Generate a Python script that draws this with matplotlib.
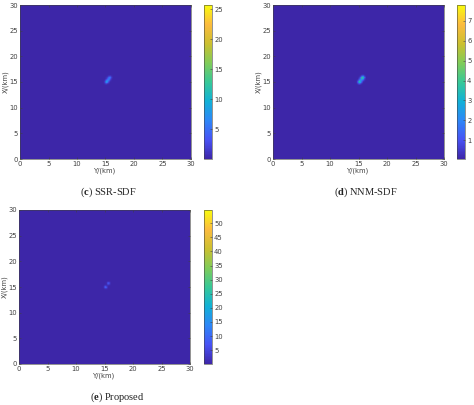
import numpy as np
import matplotlib
matplotlib.use("Agg")
import matplotlib.pyplot as plt
from matplotlib.colors import LinearSegmentedColormap

plt.rcParams['font.family'] = ['DejaVu Sans']
plt.rcParams['mathtext.fontset'] = 'custom'
plt.rcParams['mathtext.rm'] = 'Liberation Serif'
plt.rcParams['mathtext.bf'] = 'Liberation Serif:bold'

## MATLAB parula, approximated from a few anchor colours
parula = LinearSegmentedColormap.from_list("parula", [
    (0.2422, 0.1504, 0.6603), (0.2810, 0.3228, 0.9579),
    (0.1786, 0.5289, 0.9682), (0.0689, 0.6948, 0.8394),
    (0.2161, 0.7843, 0.5923), (0.5044, 0.7993, 0.3480),
    (0.8000, 0.7531, 0.1875), (0.9871, 0.7348, 0.2438),
    (0.9763, 0.9831, 0.0538)])

## Data: 30 x 30 km field on 0.25 km cells, zero except a patch near (15, 15)
grid_km = 30.0
cell_km = 0.25
patch_origin = (14.5, 14.25)   # (Y, X) of the patch's lower-left cell

# rows go up in X, columns go right in Y
patch_ssr = [
    [0, 0.0, 0.0, 0.0, 0.0, 0.0, 0.0, 0],
    [0, 0.5, 1.5, 0.5, 0.0, 0.0, 0.0, 0],
    [0, 1.5, 6.5, 4.5, 1.0, 0.0, 0.0, 0],
    [0, 1.5, 8.5, 6.5, 2.5, 0.5, 0.0, 0],
    [0, 0.5, 3.5, 6.5, 5.5, 1.5, 0.0, 0],
    [0, 0.0, 1.0, 3.5, 6.5, 3.0, 0.5, 0],
    [0, 0.0, 0.5, 2.0, 5.5, 4.5, 1.0, 0],
    [0, 0.0, 0.0, 0.5, 2.0, 2.0, 0.5, 0],
    [0, 0.0, 0.0, 0.0, 0.0, 0.0, 0.0, 0],
]
patch_nnm = [
    [0, 0.0, 0.0, 0.0, 0.0, 0.0, 0.0, 0],
    [0, 0.3, 0.9, 0.5, 0.0, 0.0, 0.0, 0],
    [0, 0.9, 3.0, 2.0, 0.6, 0.0, 0.0, 0],
    [0, 0.9, 3.6, 2.7, 1.1, 0.3, 0.0, 0],
    [0, 0.3, 1.7, 2.2, 2.0, 0.9, 0.2, 0],
    [0, 0.0, 0.7, 1.8, 3.6, 2.3, 0.5, 0],
    [0, 0.0, 0.3, 1.4, 4.0, 3.1, 0.9, 0],
    [0, 0.0, 0.0, 0.5, 1.8, 1.7, 0.4, 0],
    [0, 0.0, 0.0, 0.0, 0.3, 0.3, 0.0, 0],
]
patch_prop = [
    [0, 0.0, 0.0, 0.0, 0.0, 0.0, 0.0, 0],
    [0, 0.0, 1.0, 1.0, 0.0, 0.0, 0.0, 0],
    [0, 1.0, 9.0, 6.0, 0.0, 0.0, 0.0, 0],
    [0, 1.0, 7.0, 4.0, 0.5, 0.0, 0.0, 0],
    [0, 0.0, 1.0, 1.0, 2.0, 1.0, 0.0, 0],
    [0, 0.0, 0.0, 1.0, 8.0, 5.0, 0.0, 0],
    [0, 0.0, 0.0, 1.0, 6.0, 4.0, 0.0, 0],
    [0, 0.0, 0.0, 0.0, 0.5, 0.5, 0.0, 0],
    [0, 0.0, 0.0, 0.0, 0.0, 0.0, 0.0, 0],
]

# colour limits
clim_ssr = (0.05, 25.7)
clim_nnm = (0.05, 7.8)
clim_prop = (0.1, 54.7)

ticks_xy = [0, 5, 10, 15, 20, 25, 30]
cticks_ssr = [5, 10, 15, 20, 25]
cticks_nnm = [1, 2, 3, 4, 5, 6, 7]
cticks_prop = [5, 10, 15, 20, 25, 30, 35, 40, 45, 50]

captions = [("c", "SSR-SDF"), ("d", "NNM-SDF"), ("e", "Proposed")]


def make_field(patch):
    n = int(grid_km / cell_km)
    field = np.zeros((n, n))
    p = np.array(patch, dtype=float)
    c0 = int(round(patch_origin[0] / cell_km))
    r0 = int(round(patch_origin[1] / cell_km))
    field[r0:r0 + p.shape[0], c0:c0 + p.shape[1]] = p
    return field


W, H = 474.0, 405.0
fig = plt.figure(figsize=(4.74, 4.05), dpi=100)

## pixel boxes: (axes left, right, top, bottom, cbar left, cbar right, caption x, caption y)
boxes = [
    (20, 191, 5, 159, 204, 212, 108, 192),
    (273, 444, 5, 159, 457, 465, 366, 192),
    (19, 190, 210, 364, 204, 212, 117, 397),
]
panels = [
    (patch_ssr, clim_ssr, cticks_ssr),
    (patch_nnm, clim_nnm, cticks_nnm),
    (patch_prop, clim_prop, cticks_prop),
]
fs = 4.9
txtc = '#404040'

for (patch, clim, cticks), box, (letter, name) in zip(panels, boxes, captions):
    l, r, t, b, cl, cr, tx, ty = box
    ax = fig.add_axes([l / W, 1 - b / H, (r - l) / W, (b - t) / H])
    im = ax.imshow(make_field(patch), extent=[0, grid_km, 0, grid_km], origin='lower',
                   aspect='auto', cmap=parula, vmin=clim[0], vmax=clim[1],
                   interpolation='bilinear')
    ax.set_xticks(ticks_xy)
    ax.set_yticks(ticks_xy)
    ax.tick_params(direction='in', length=1.5, width=0.4, labelsize=fs, colors=txtc,
                   pad=1.5, top=True, right=True)
    for s in ax.spines.values():
        s.set_linewidth(0.4)
        s.set_color(txtc)
    ax.set_xlabel('Y/(km)', fontsize=fs, color=txtc, labelpad=0.5)
    ax.set_ylabel('X/(km)', fontsize=fs, color=txtc, labelpad=0.5)

    cax = fig.add_axes([cl / W, 1 - b / H, (cr - cl) / W, (b - t) / H])
    cb = fig.colorbar(im, cax=cax)
    cb.set_ticks(cticks)
    cb.ax.tick_params(direction='in', length=1.5, width=0.4, labelsize=fs, colors=txtc, pad=1.5)
    cb.outline.set_linewidth(0.4)
    cb.outline.set_edgecolor(txtc)

    fig.text(tx / W, 1 - ty / H, r"($\mathbf{%s}$) %s" % (letter, name), ha='center',
             va='center', fontsize=7.5, family='Liberation Serif', color='#222222')

fig.savefig('out.png', dpi=100)
